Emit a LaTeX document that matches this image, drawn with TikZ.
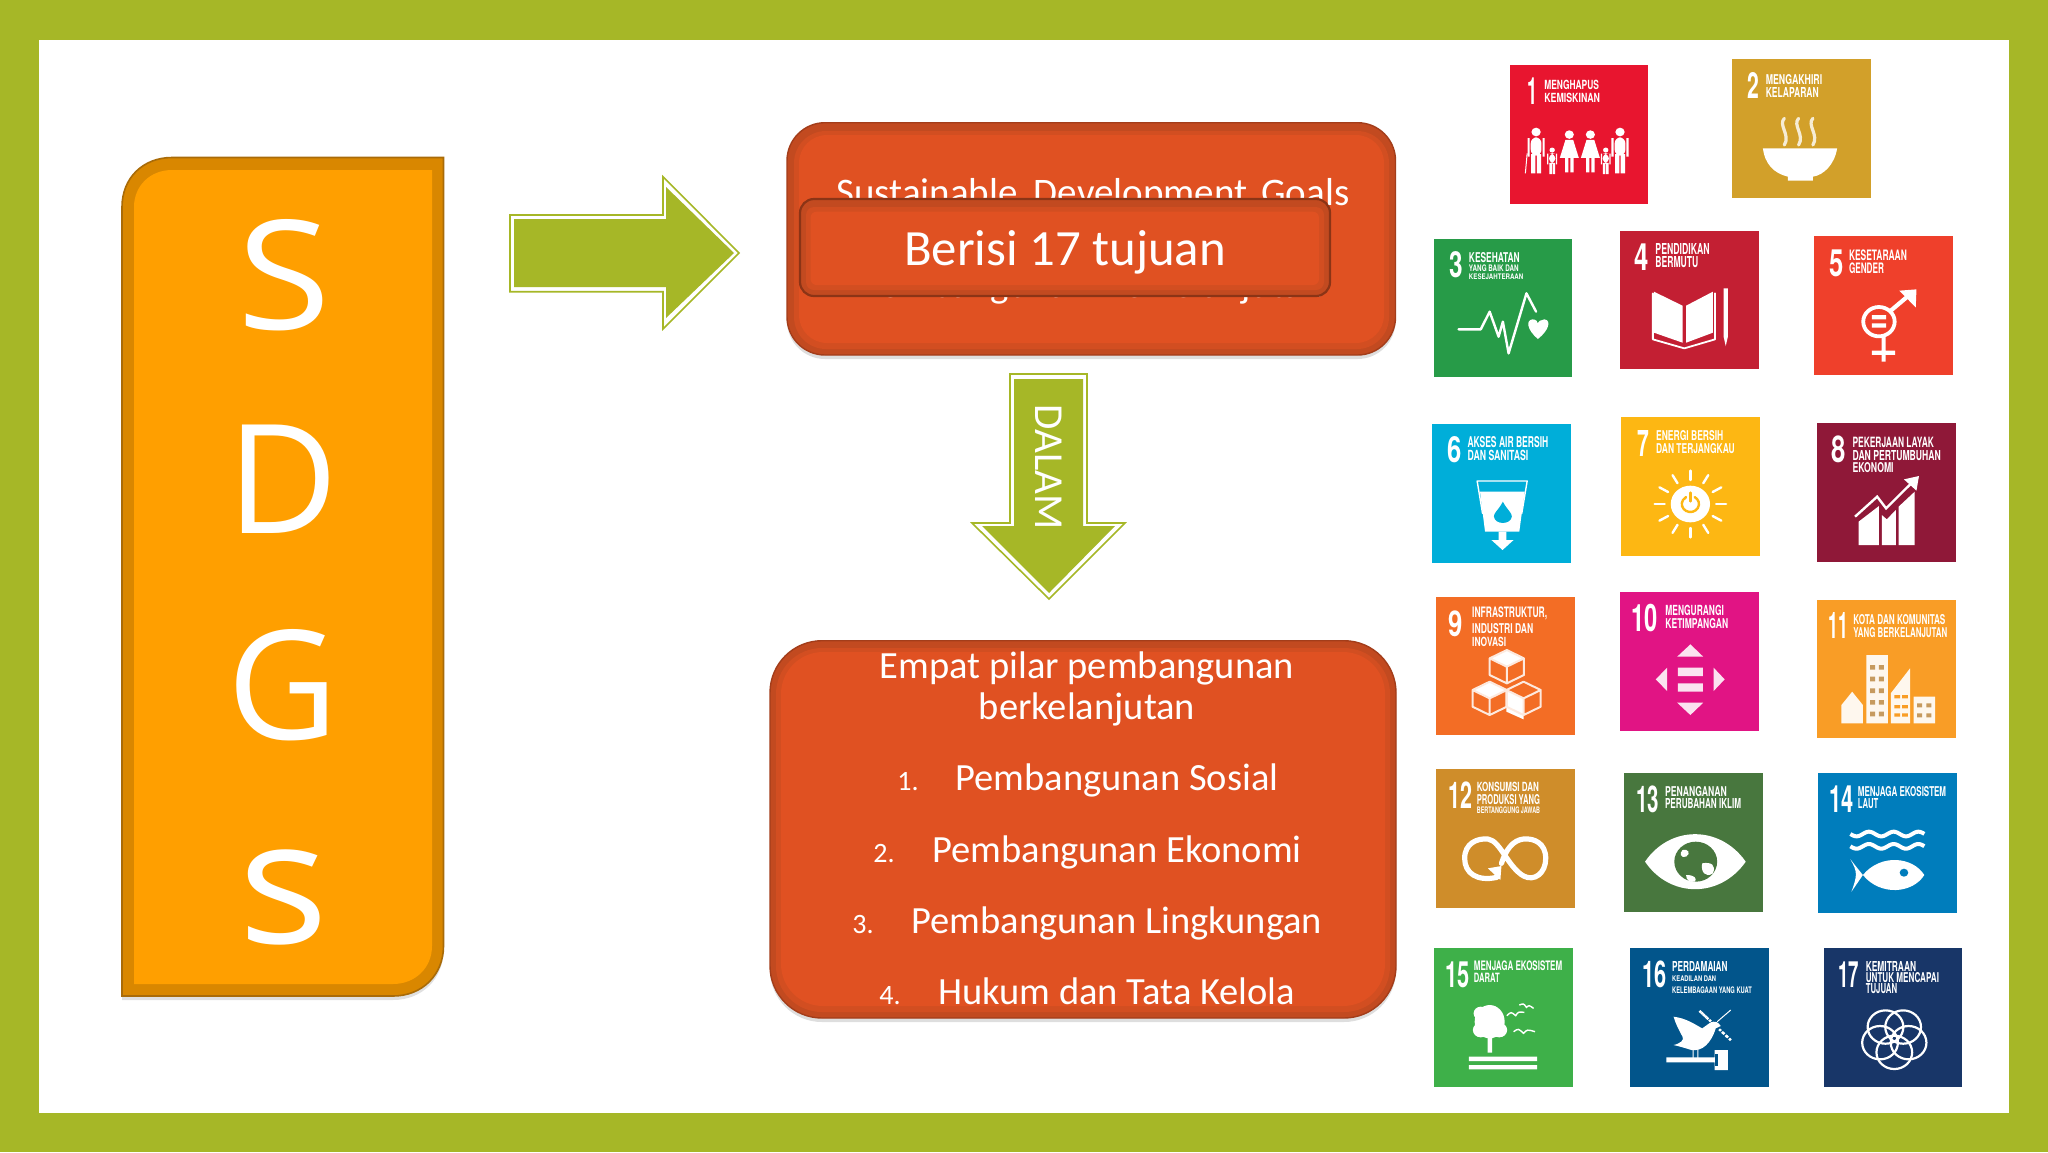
\documentclass[tikz,border=0pt]{standalone}
\usepackage{fontspec}
\setmainfont{Carlito}
\newfontfamily\bigf{Open Sans}
\newfontfamily\tf{TeX Gyre Heros}
\usetikzlibrary{calc}
\definecolor{frameg}{HTML}{A6B727}
\definecolor{org}{HTML}{FF9F00}
\definecolor{orgd}{HTML}{D98700}
\definecolor{orge}{HTML}{A96B08}
\definecolor{redm}{HTML}{E05122}
\definecolor{redd}{HTML}{C24A20}
\definecolor{redb}{HTML}{D24E21}
\definecolor{rede}{HTML}{A33D1A}
\definecolor{c1}{HTML}{E8152F}
\definecolor{c2}{HTML}{D2A02A}
\definecolor{c3}{HTML}{279B48}
\definecolor{c4}{HTML}{C31F33}
\definecolor{c5}{HTML}{EF402B}
\definecolor{c6}{HTML}{00AED9}
\definecolor{c7}{HTML}{FDB713}
\definecolor{c8}{HTML}{8F1838}
\definecolor{c9}{HTML}{F36D25}
\definecolor{c10}{HTML}{E11484}
\definecolor{c11}{HTML}{F99D26}
\definecolor{c12}{HTML}{CF8D2A}
\definecolor{c13}{HTML}{48773E}
\definecolor{c14}{HTML}{007DBC}
\definecolor{c15}{HTML}{3EB049}
\definecolor{c16}{HTML}{02558B}
\definecolor{c17}{HTML}{183668}
\newcounter{tc}
\newcommand\tl[5]{\stepcounter{tc}\pgfmathsetmacro\twd{(#3-#1)*0.17857}\pgfmathsetmacro\thh{(#4-#2)*0.16667}%
  \node[inner sep=0,anchor=south west,text=white] (tx\number\value{tc}) at (#1,#4) {\resizebox{\twd pt}{\thh pt}{\tf\bfseries #5}};}
\newcommand\tn[5]{\tl{#1}{#2}{#3}{#4}{#5}}
\newcommand\man[3]{\begin{scope}[shift={(#1,#2)},scale=#3]
  \fill[white] (0,14) circle (13);
  \fill[white,rounded corners=3] (-15,30) rectangle (15,85);
  \fill[white] (-24,32) rectangle (-18,88) (18,32) rectangle (24,88);
  \fill[white] (-14,80) rectangle (-2,138) (2,80) rectangle (14,138);
\end{scope}}
\newcommand\woman[3]{\begin{scope}[shift={(#1,#2)},scale=#3]
  \fill[white] (0,14) circle (13);
  \fill[white] (-11,30) -- (11,30) -- (27,85) -- (-27,85) -- cycle;
  \fill[white] (-12,85) rectangle (-3,130) (3,85) rectangle (12,130);
\end{scope}}
\newcommand\cubeicon[3]{\begin{scope}[shift={(#1,#2)}]
  \draw[#3,line width=1pt,line join=round] (-48,-25) -- (0,0) -- (48,-25) (0,0) -- (0,50) (-48,-25) -- (-48,25) -- (0,50) -- (48,25) -- (48,-25) -- (0,-50) -- cycle;
\end{scope}}
\tikzset{
  txt/.style={text=white,inner sep=0,anchor=base},
  txtw/.style={text=white,inner sep=0,anchor=base west},
  main/.style={font=\fontsize{19.25}{19.25}\selectfont},
  nums/.style={font=\fontsize{14}{14}\selectfont},
  big/.style={font=\bigf\fontsize{76}{76}\selectfont},
  wl/.style={draw=white,line width=#1,line cap=round,line join=round},
  wl/.default=1.2pt
}
\begin{document}
\begin{tikzpicture}[x=0.5pt,y=-0.5pt]
\useasboundingbox (0,0) rectangle (2048,1152);
\fill[frameg] (0,0) rectangle (2048,1152);
\fill[white] (39,40) rectangle (2009,1113);

% SDGs box
\fill[black,opacity=.12] (172,162) -- (443.5,162) -- (443.5,950) .. controls (443.5,979) and (422,1000) .. (393,1000) -- (122,1000) -- (122,207) .. controls (122,182) and (143,162) .. (172,162) -- cycle;
\fill[orgd,draw=orge,line width=.8pt] (172,157.5) -- (443.5,157.5) -- (443.5,946) .. controls (443.5,975) and (422,996) .. (393,996) -- (122,996) -- (122,207) .. controls (122,178) and (143,157.5) .. (172,157.5) -- cycle;
\fill[org] (172,170) -- (432,170) -- (432,946) .. controls (432,968) and (415,984) .. (393,984) -- (134,984) -- (134,207) .. controls (134,186) and (150,170) .. (172,170) -- cycle;
\node[txt,big] (ls) at (284,329) {\scalebox{1.12}[1]{S}};
\node[txt,big] (ld) at (283,533) {D};
\node[txt,big] (lg) at (283,739) {G};
\node[txt,font=\bigf\fontsize{86}{86}\selectfont] (lss) at (284,943) {\scalebox{1.1}[1]{s}};

% right arrow
\draw[frameg,fill=white,line width=.8pt,line join=miter] (510,215) -- (663,215) -- (663,176.7) -- (739,253) -- (663,329) -- (663,291.7) -- (510,291.7) -- cycle;
\fill[frameg] (514,219) -- (666,219) -- (666,187) -- (734,253) -- (666,318) -- (666,287) -- (514,287) -- cycle;

% top red box
\fill[black,opacity=.13,rounded corners=19pt] (787,127) rectangle (1395.5,359);
\fill[redd,draw=rede,line width=.7pt,rounded corners=19pt] (787,122.7) rectangle (1395.5,355);
\fill[redb,rounded corners=16pt] (794,131) rectangle (1389,349);
\fill[redm,rounded corners=14pt] (799,135) rectangle (1384,343);
\node[txtw,font=\fontsize{19.5}{19.5}\selectfont] (sdg1) at (836,205) {Sustainable\hspace{8pt}Development\hspace{7pt}Goals};
\node[txt,font=\fontsize{19.5}{19.5}\selectfont] (sdg2) at (1092,297) {Pembangunan\hspace{7pt}Berkelanjutan};
\fill[redd,draw=rede!85!black,line width=1.1pt,rounded corners=7pt] (800,199) rectangle (1330,296);
\fill[redb,rounded corners=4pt] (806,207) rectangle (1324,290);
\fill[redm,rounded corners=3pt] (810.5,211.7) rectangle (1319,285);
\node[txt,font=\fontsize{25.4}{25.4}\selectfont] (ber) at (1065,265) {Berisi 17 tujuan};

% down arrow
\draw[frameg,fill=white,line width=.8pt,line join=miter] (1010,374) -- (1087,374) -- (1087,523) -- (1125,523) -- (1049,599) -- (972,523) -- (1010,523) -- cycle;
\fill[frameg] (1014,379) -- (1083,379) -- (1083,526) -- (1115,526) -- (1049,593) -- (982,526) -- (1014,526) -- cycle;
\node[text=white,inner sep=0,anchor=base,rotate=-90,font=\fontsize{20.6}{20.6}\selectfont] (dal) at (1035,467) {DALAM};

% bottom red box
\fill[black,opacity=.13,rounded corners=26pt] (770,645) rectangle (1396,1022);
\fill[redd,draw=rede,line width=.7pt,rounded corners=26pt] (770,640.7) rectangle (1396,1018);
\fill[redb,rounded corners=23pt] (776,648) rectangle (1390,1012);
\fill[redm,rounded corners=21pt] (781,652) rectangle (1385,1006);
\node[txt,main] (p1) at (1087,678) {Empat pilar pembangunan};
\node[txt,main] (p2) at (1087,719) {berkelanjutan};
\node[txtw,nums] (n1) at (897,790) {1.};
\node[txtw,main] (l1) at (955,790) {Pembangunan Sosial};
\node[txtw,nums] (n2) at (873,862) {2.};
\node[txtw,main] (l2) at (932,862) {Pembangunan Ekonomi};
\node[txtw,nums] (n3) at (852,933) {3.};
\node[txtw,main] (l3) at (911,933) {Pembangunan Lingkungan};
\node[txtw,nums] (n4) at (879,1004) {4.};
\node[txtw,main] (l4) at (938,1004) {Hukum dan Tata Kelola};

%%% tiles row 1-2
\begin{scope}[shift={(1420,40)},x=0.17857pt,y=-0.16667pt]
 \fill[c1] (252,75) rectangle (639,491);
 \tn{300}{115}{328}{195}{1}\tl{347}{122}{500}{150}{MENGHAPUS}\tl{347}{160}{503}{188}{KEMISKINAN}
 \man{325}{262}{1}\man{370}{322}{.58}\woman{418}{270}{.98}\woman{477}{270}{.98}\man{520}{322}{.58}\man{560}{262}{1}
 \draw[white,line width=.5pt] (300,340) -- (295,400);
 \fill[c2] (874,58) rectangle (1262,473);
 \tn{917}{100}{950}{178}{2}\tl{967}{105}{1125}{135}{MENGAKHIRI}\tl{967}{145}{1115}{175}{KELAPARAN}
 \fill[white] (960,325) -- (1168,325) .. controls (1160,375) and (1130,405) .. (1100,410) -- (1100,422) -- (1030,422) -- (1030,410) .. controls (990,400) and (965,370) .. (960,325) -- cycle;
 \foreach \sx in {1020,1060,1100}{\draw[wl=1.6pt,draw=white!80!c2] (\sx,235) .. controls (\sx-18,255) and (\sx+18,285) .. (\sx,315);}
 \fill[c3] (38,596) rectangle (426,1011);
 \tn{82}{637}{120}{715}{3}\tl{136}{640}{278}{670}{KESEHATAN}\tl{136}{675}{275}{695}{YANG BAIK DAN}\tl{136}{703}{288}{720}{KESEJAHTERAAN}
 \draw[wl=1.2pt] (108,868) -- (170,868) -- (195,815) -- (220,890) -- (232,845) -- (248,940) -- (298,760) -- (325,815);
 \fill[white] (330,897) .. controls (300,870) and (295,840) .. (315,838) .. controls (325,838) and (330,845) .. (330,850) .. controls (330,845) and (340,838) .. (348,838) .. controls (368,840) and (362,870) .. (330,897) -- cycle;
 \fill[c4] (560,572) rectangle (948,987);
 \tn{600}{612}{640}{692}{4}\tl{658}{612}{810}{645}{PENDIDIKAN}\tl{658}{652}{778}{685}{BERMUTU}
 \fill[white] (655,755) -- (735,797) -- (735,908) -- (655,878) -- cycle (745,797) -- (820,755) -- (820,878) -- (745,908) -- cycle;
 \draw[wl=.9pt] (652,760) -- (652,898) -- (740,925) -- (826,898) -- (826,760);
 \fill[white] (850,745) rectangle (862,890) (850,890) -- (862,890) -- (856,918) -- cycle;
 \fill[c5] (1103,589) rectangle (1491,1006);
 \tn{1145}{632}{1185}{712}{5}\tl{1200}{630}{1362}{662}{KESETARAAN}\tl{1200}{670}{1298}{702}{GENDER}
 \draw[wl=1.9pt] (1285,845) circle (44);
 \fill[white] (1265,825) rectangle (1305,838) (1265,850) rectangle (1305,863);
 \draw[white,line width=2.1pt] (1318,812) -- (1370,765) (1298,890) -- (1298,965) (1265,938) -- (1330,938);
 \fill[white] (1342,752) -- (1390,748) -- (1388,802) -- cycle;
\end{scope}

%%% rows 3-4
\begin{scope}[shift={(1420,400)},x=0.17857pt,y=-0.16667pt]
 \fill[c6] (34,72) rectangle (423,488);
 \tn{76}{112}{116}{190}{6}\tl{132}{112}{358}{145}{AKSES AIR BERSIH}\tl{132}{152}{302}{183}{DAN SANITASI}
 \draw[wl=.7pt] (160,243) -- (300,243) -- (285,340) (160,243) -- (175,340);
 \fill[white] (168,275) -- (293,275) -- (278,395) -- (182,395) -- cycle;
 \fill[c6] (232,305) .. controls (220,330) and (205,340) .. (207,350) .. controls (210,375) and (254,375) .. (257,350) .. controls (259,340) and (244,330) .. (232,305) -- cycle;
 \fill[white] (220,395) rectangle (242,420) (200,420) -- (262,420) -- (231,450) -- cycle;
 \fill[c7] (563,52) rectangle (951,467);
 \tn{607}{92}{640}{170}{7}\tl{660}{92}{848}{122}{ENERGI BERSIH}\tl{660}{132}{880}{162}{DAN TERJANGKAU}
 \begin{scope}[shift={(757,312)}]
  \foreach \a in {0,30,...,330}{\draw[wl=1.2pt] (\a:72) -- (\a:100);}
  \fill[white] (0,0) circle (55);
  \draw[c7,line width=1.2pt,line cap=round] (-60:24) arc (-60:240:24);
  \draw[c7,line width=1.2pt,line cap=round] (0,-34) -- (0,-8);
 \end{scope}
 \fill[c8] (1112,70) rectangle (1501,486);
 \tn{1150}{110}{1190}{190}{8}\tl{1210}{112}{1438}{143}{PEKERJAAN LAYAK}\tl{1210}{152}{1457}{182}{DAN PERTUMBUHAN}\tl{1210}{190}{1325}{220}{EKONOMI}
 \fill[white] (1228,365) -- (1285,318) -- (1285,435) -- (1228,435) -- cycle (1293,345) -- (1307,358) -- (1332,330) -- (1332,435) -- (1293,435) -- cycle (1340,320) -- (1385,275) -- (1385,435) -- (1340,435) -- cycle;
 \draw[c8,line width=2.4pt] (1218,352) -- (1280,290) -- (1305,325) -- (1380,245);
 \draw[white,line width=1.2pt] (1218,350) -- (1280,290) -- (1305,325) -- (1380,245);
 \fill[white] (1355,238) -- (1397,228) -- (1390,272) -- cycle;
 \fill[c9] (45,591) rectangle (433,1006);
 \tn{80}{635}{120}{712}{9}\tl{145}{630}{355}{662}{INFRASTRUKTUR,}\tl{145}{672}{316}{702}{INDUSTRI DAN}\tl{145}{712}{240}{740}{INOVASI}
 \fill[white] (243,750) -- (291,775) -- (243,800) -- (195,775) -- cycle (195,845) -- (243,870) -- (195,895) -- (147,870) -- cycle (242,870) -- (290,895) -- (290,958) -- (242,935) -- cycle;
 \cubeicon{243}{800}{white!85!c9}\cubeicon{195}{895}{white!85!c9}\cubeicon{290}{895}{white!85!c9}
 \fill[c10] (560,576) rectangle (948,993);
 \tn{590}{615}{664}{697}{10}\tl{686}{617}{850}{648}{MENGURANGI}\tl{686}{657}{862}{687}{KETIMPANGAN}
 \fill[white!88!c10] (757,733) -- (720,770) -- (793,770) -- cycle (757,945) -- (720,908) -- (793,908) -- cycle (660,838) -- (692,803) -- (692,873) -- cycle (853,838) -- (822,803) -- (822,873) -- cycle (722,803) rectangle (792,828) (722,850) rectangle (792,875);
 \fill[c11] (1112,599) rectangle (1501,1014);
 \tn{1143}{640}{1198}{718}{11}\tl{1212}{645}{1470}{675}{KOTA DAN KOMUNITAS}\tl{1212}{685}{1475}{715}{YANG BERKELANJUTAN}
 \fill[white!92!c11] (1250,765) rectangle (1310,970) (1180,970) -- (1180,915) -- (1210,875) -- (1240,915) -- (1240,970) -- cycle (1318,970) -- (1318,880) -- (1372,805) -- (1372,970) -- cycle (1382,890) rectangle (1442,970);
 \foreach \wy in {795,830,865,900,935}{\fill[c11!70!black!70!white] (1260,\wy) rectangle (1274,\wy+14) (1285,\wy) rectangle (1299,\wy+14);}
 \foreach \wy in {885,915,940}{\fill[c11] (1328,\wy) rectangle (1344,\wy+10) (1350,\wy) rectangle (1366,\wy+10);}
 \foreach \wy in {910,940}{\fill[c11!70!black!70!white] (1392,\wy) rectangle (1406,\wy+12) (1418,\wy) rectangle (1432,\wy+12);}
\end{scope}

%%% rows 5-6
\begin{scope}[shift={(1420,750)},x=0.17857pt,y=-0.16667pt]
 \fill[c12] (45,57) rectangle (433,473);
 \tn{78}{98}{145}{178}{12}\tl{158}{97}{332}{125}{KONSUMSI DAN}\tl{158}{135}{335}{165}{PRODUKSI YANG}\tl{158}{172}{335}{192}{BERTANGGUNG JAWAB}
 \draw[wl=2.6pt] (215,382) .. controls (160,395) and (125,370) .. (125,325) .. controls (125,280) and (160,264) .. (190,267) .. controls (225,272) and (245,350) .. (290,378) .. controls (320,395) and (352,370) .. (352,325) .. controls (352,280) and (320,264) .. (290,267) .. controls (260,270) and (240,300) .. (228,340);
 \fill[white] (190,355) -- (228,348) -- (225,390) -- cycle;
 \fill[c13] (572,70) rectangle (961,487);
 \tn{604}{110}{668}{190}{13}\tl{685}{110}{858}{140}{PENANGANAN}\tl{685}{148}{898}{178}{PERUBAHAN IKLIM}
 \fill[white] (630,335) .. controls (700,225) and (840,225) .. (912,335) .. controls (840,445) and (700,445) .. (630,335) -- cycle;
 \fill[c13] (772,335) circle (60);
 \fill[white] (735,300) .. controls (750,295) and (760,310) .. (745,320) .. controls (730,325) and (725,310) .. (735,300) -- cycle (790,340) .. controls (815,335) and (830,345) .. (820,370) .. controls (800,385) and (785,365) .. (790,340) -- cycle (745,375) .. controls (770,375) and (775,385) .. (770,395) .. controls (755,398) and (745,390) .. (745,375) -- cycle;
 \fill[c14] (1113,70) rectangle (1503,488);
 \tn{1145}{110}{1213}{190}{14}\tl{1225}{110}{1472}{140}{MENJAGA EKOSISTEM}\tl{1225}{148}{1282}{178}{LAUT}
 \draw[white,line width=2pt] plot[domain=1205:1412,samples=50] (\x,{252+7*sin((\x-1205)*5.2)});
 \draw[white,line width=2pt] plot[domain=1205:1412,samples=50] (\x,{289+7*sin((\x-1205)*5.2)});
 \fill[white] (1240,375) .. controls (1290,310) and (1380,320) .. (1412,375) .. controls (1380,430) and (1290,440) .. (1240,375) -- (1208,425) .. controls (1225,375) and (1225,365) .. (1205,328) -- cycle;
 \fill[c14] (1355,368) circle (12);
 \fill[c15] (39,594) rectangle (427,1010);
 \tn{70}{638}{138}{715}{15}\tl{150}{633}{397}{662}{MENJAGA EKOSISTEM}\tl{150}{672}{222}{700}{DARAT}
 \fill[white] (195,815) ellipse (42 and 50) (170,840) circle (22) (222,840) circle (22) (170,790) circle (20);
 \fill[white] (189,860) rectangle (202,908) (137,920) rectangle (328,933) (137,945) rectangle (328,958);
 \draw[white,line width=.7pt] (278,765) .. controls (290,760) .. (298,772) .. controls (305,765) .. (318,775) (243,797) .. controls (255,785) .. (268,797) .. controls (275,785) .. (292,787) (262,845) .. controls (275,835) .. (290,850) .. controls (300,838) .. (322,845);
 \fill[c16] (588,594) rectangle (976,1010);
 \tn{622}{635}{690}{715}{16}\tl{705}{635}{860}{665}{PERDAMAIAN}\tl{705}{678}{828}{695}{KEADILAN DAN}\tl{705}{712}{928}{732}{KELEMBAGAAN YANG KUAT}
 \fill[white] (710,800) .. controls (745,805) and (765,820) .. (790,835) .. controls (805,825) and (812,815) .. (822,815) .. controls (835,815) and (838,822) .. (842,828) -- (828,835) .. controls (815,880) and (790,905) .. (760,900) .. controls (745,895) and (730,890) .. (710,885) .. controls (730,880) and (740,870) .. (735,860) .. controls (725,840) and (715,820) .. (710,800) -- cycle;
 \draw[white,line width=.5pt] (765,900) -- (765,925) (778,898) -- (778,925) (832,815) -- (870,780);
 \foreach \lx/\ly in {840,805,850,795,860,785,868,790,858,800,848,812}{\fill[white] (\lx,\ly) circle (5);}
 \fill[white] (690,922) rectangle (825,937) (825,900) rectangle (862,960);
 \fill[c16] (825,912) rectangle (833,948);
 \fill[c17] (1130,594) rectangle (1518,1010);
 \tn{1170}{638}{1228}{715}{17}\tl{1247}{635}{1388}{665}{KEMITRAAN}\tl{1247}{668}{1452}{698}{UNTUK MENCAPAI}\tl{1247}{703}{1335}{733}{TUJUAN}
 \begin{scope}[shift={(1328,865)}]
  \foreach \a in {90,162,18,234,306}{\draw[white,line width=1.1pt] (\a:42) circle (50);}
 \end{scope}
\end{scope}
\end{tikzpicture}
\end{document}
